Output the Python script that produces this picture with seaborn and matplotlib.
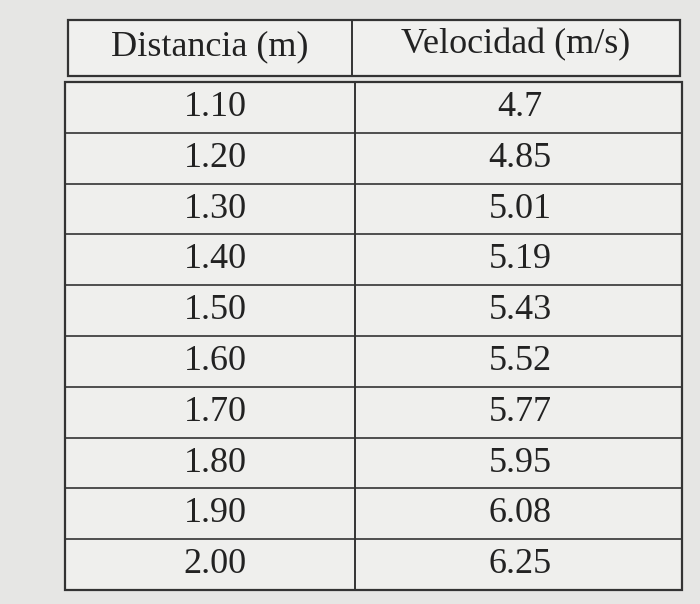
import matplotlib
matplotlib.use("Agg")
import matplotlib.pyplot as plt
import seaborn as sns
from matplotlib.patches import Rectangle

headers = ["Distancia (m)", "Velocidad (m/s)"]
distancia = ["1.10", "1.20", "1.30", "1.40", "1.50", "1.60", "1.70", "1.80", "1.90", "2.00"]
velocidad = ["4.7", "4.85", "5.01", "5.19", "5.43", "5.52", "5.77", "5.95", "6.08", "6.25"]

sns.set_theme(style="white")
plt.rcParams['font.family'] = ['Liberation Serif', 'DejaVu Serif']

fig = plt.figure(figsize=(7, 6.04), dpi=100, facecolor="#e6e6e4")
ax = fig.add_axes([0, 0, 1, 1])
ax.set_xlim(0, 700); ax.set_ylim(604, 0); ax.axis("off")
ax.set_facecolor("#e6e6e4")

lc = "#333333"
# header
x0, x1, xm = 68, 680, 352
ax.add_patch(Rectangle((x0, 20), x1 - x0, 56, fc="#f0f0ee", ec=lc, lw=1.6))
ax.plot([xm, xm], [20, 76], color=lc, lw=1.4)
ax.text(210, 47, headers[0], ha="center", va="center", fontsize=26, color="#222")
ax.text(516, 45, headers[1], ha="center", va="center", fontsize=26, color="#222")

# body
bx0, bx1, bm, by0, by1 = 65, 682, 355, 82, 590
n = len(distancia)
h = (by1 - by0) / n
ax.add_patch(Rectangle((bx0, by0), bx1 - bx0, by1 - by0, fc="#efefed", ec=lc, lw=1.6))
ax.plot([bm, bm], [by0, by1], color=lc, lw=1.4)
for i in range(1, n):
    y = by0 + i * h
    ax.plot([bx0, bx1], [y, y], color=lc, lw=1.2)
for i, (d, v) in enumerate(zip(distancia, velocidad)):
    yc = by0 + (i + 0.5) * h
    ax.text(215, yc, d, ha="center", va="center", fontsize=26, color="#222")
    ax.text(520, yc, v, ha="center", va="center", fontsize=26, color="#222")

fig.savefig("out.png", dpi=100, facecolor=fig.get_facecolor())
